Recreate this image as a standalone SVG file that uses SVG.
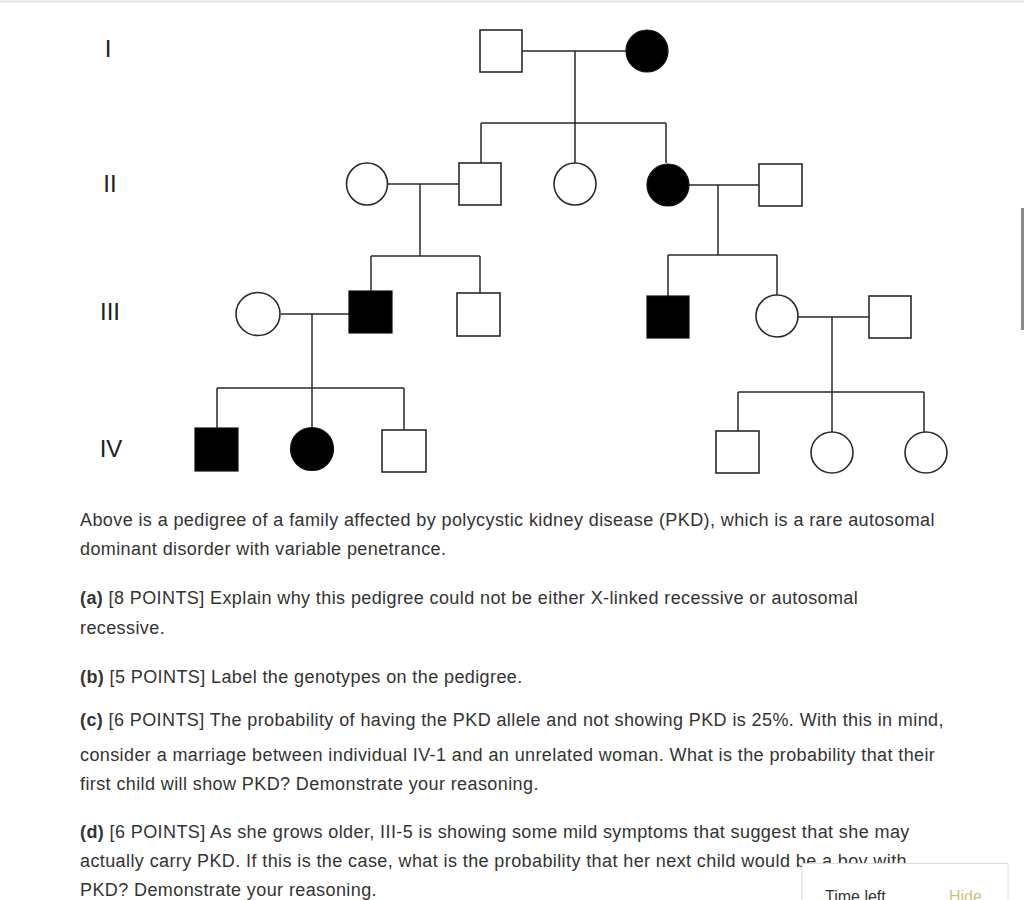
<svg xmlns="http://www.w3.org/2000/svg" width="1024" height="900" viewBox="0 0 1024 900">
<style>
.ln{stroke:#2a2a2a;stroke-width:1.5;fill:none}
.op{fill:#fff;stroke:#2a2a2a;stroke-width:1.6}
.af{fill:#000;stroke:#111;stroke-width:1.2}
.gen{font-family:"Liberation Sans",Arial,sans-serif;font-size:24px;fill:#222}
.tx{font-family:"Liberation Sans",Arial,sans-serif;font-size:18px;fill:#333;letter-spacing:0.4px}
.b{font-weight:bold}
</style>
<rect x="0" y="0" width="1024" height="900" fill="#fff"/>
<line x1="0" y1="1.5" x2="1024" y2="1.5" stroke="#e4e4e4" stroke-width="2"/>
<rect x="1021" y="208" width="3" height="122" fill="#8a8a8a"/>

<g id="gen-labels">
<text class="gen" x="108" y="57" text-anchor="middle">I</text>
<text class="gen" x="110" y="192" text-anchor="middle">II</text>
<text class="gen" x="110" y="320" text-anchor="middle">III</text>
<text class="gen" x="111" y="457" text-anchor="middle">IV</text>
</g>

<g id="connectors">
<!-- Gen I -->
<path class="ln" d="M522 51H626 M575 51V123 M481 123H666 M481 123V163 M575 123V163 M666 123V163"/>
<!-- II-1 x II-2 -->
<path class="ln" d="M387 184H459 M420 184V256 M371 256H480 M371 256V291 M480 256V293"/>
<!-- II-4 x II-5 -->
<path class="ln" d="M689 185H759 M718 185V255 M668 255H777 M668 255V296 M777 255V295"/>
<!-- III-1 x III-2 -->
<path class="ln" d="M281 314H349 M312 314V388 M217 388H404 M217 388V428 M312 388V428 M404 388V430"/>
<!-- III-5 x III-6 -->
<path class="ln" d="M798 317H869 M832 317V392 M738 392H924 M738 392V431 M832 392V432 M924 392V432"/>
</g>

<g id="I-1"><rect class="op" x="480" y="30" width="42" height="42"/></g>
<g id="I-2"><ellipse class="af" cx="647" cy="51" rx="21" ry="21"/></g>

<g id="II-1"><ellipse class="op" cx="367" cy="184" rx="20.5" ry="21"/></g>
<g id="II-2"><rect class="op" x="459" y="163" width="42" height="42"/></g>
<g id="II-3"><ellipse class="op" cx="575" cy="184" rx="21" ry="21"/></g>
<g id="II-4"><ellipse class="af" cx="668" cy="185" rx="21" ry="21"/></g>
<g id="II-5"><rect class="op" x="759" y="164" width="43" height="42"/></g>

<g id="III-1"><ellipse class="op" cx="258" cy="314" rx="22" ry="21.5"/></g>
<g id="III-2"><rect class="af" x="349" y="291" width="43" height="42"/></g>
<g id="III-3"><rect class="op" x="457" y="293" width="43" height="43"/></g>
<g id="III-4"><rect class="af" x="647" y="296" width="42" height="42"/></g>
<g id="III-5"><ellipse class="op" cx="777" cy="316" rx="21" ry="21"/></g>
<g id="III-6"><rect class="op" x="869" y="296" width="42" height="42"/></g>

<g id="IV-1"><rect class="af" x="195" y="428" width="43" height="43"/></g>
<g id="IV-2"><ellipse class="af" cx="312" cy="449" rx="21.5" ry="21.5"/></g>
<g id="IV-3"><rect class="op" x="382" y="430" width="44" height="42"/></g>
<g id="IV-4"><rect class="op" x="716" y="431" width="43" height="42"/></g>
<g id="IV-5"><ellipse class="op" cx="832" cy="452.5" rx="21" ry="20.5"/></g>
<g id="IV-6"><ellipse class="op" cx="926" cy="452.5" rx="21" ry="20.5"/></g>

<g id="question-text">
<text class="tx" x="80" y="526">Above is a pedigree of a family affected by polycystic kidney disease (PKD), which is a rare autosomal</text>
<text class="tx" x="80" y="555">dominant disorder with variable penetrance.</text>
<text class="tx" x="80" y="604"><tspan class="b">(a)</tspan> [8 POINTS] Explain why this pedigree could not be either X-linked recessive or autosomal</text>
<text class="tx" x="80" y="634">recessive.</text>
<text class="tx" x="80" y="683"><tspan class="b">(b)</tspan> [5 POINTS] Label the genotypes on the pedigree.</text>
<text class="tx" x="80" y="726"><tspan class="b">(c)</tspan> [6 POINTS] The probability of having the PKD allele and not showing PKD is 25%. With this in mind,</text>
<text class="tx" x="80" y="761">consider a marriage between individual IV-1 and an unrelated woman. What is the probability that their</text>
<text class="tx" x="80" y="790">first child will show PKD? Demonstrate your reasoning.</text>
<text class="tx" x="80" y="838"><tspan class="b">(d)</tspan> [6 POINTS] As she grows older, III-5 is showing some mild symptoms that suggest that she may</text>
<text class="tx" x="80" y="867">actually carry PKD. If this is the case, what is the probability that her next child would be a boy with</text>
<text class="tx" x="80" y="896">PKD? Demonstrate your reasoning.</text>
</g>

<g id="timer-box">
<rect x="802" y="863.5" width="206" height="45" fill="#fff" stroke="#dcdcdc" stroke-width="1"/>
<text x="825" y="902" font-family="Liberation Sans, Arial, sans-serif" font-size="16" fill="#333">Time left</text>
<text x="949" y="902" font-family="Liberation Sans, Arial, sans-serif" font-size="16" fill="#cfc27a">Hide</text>
</g>
</svg>
